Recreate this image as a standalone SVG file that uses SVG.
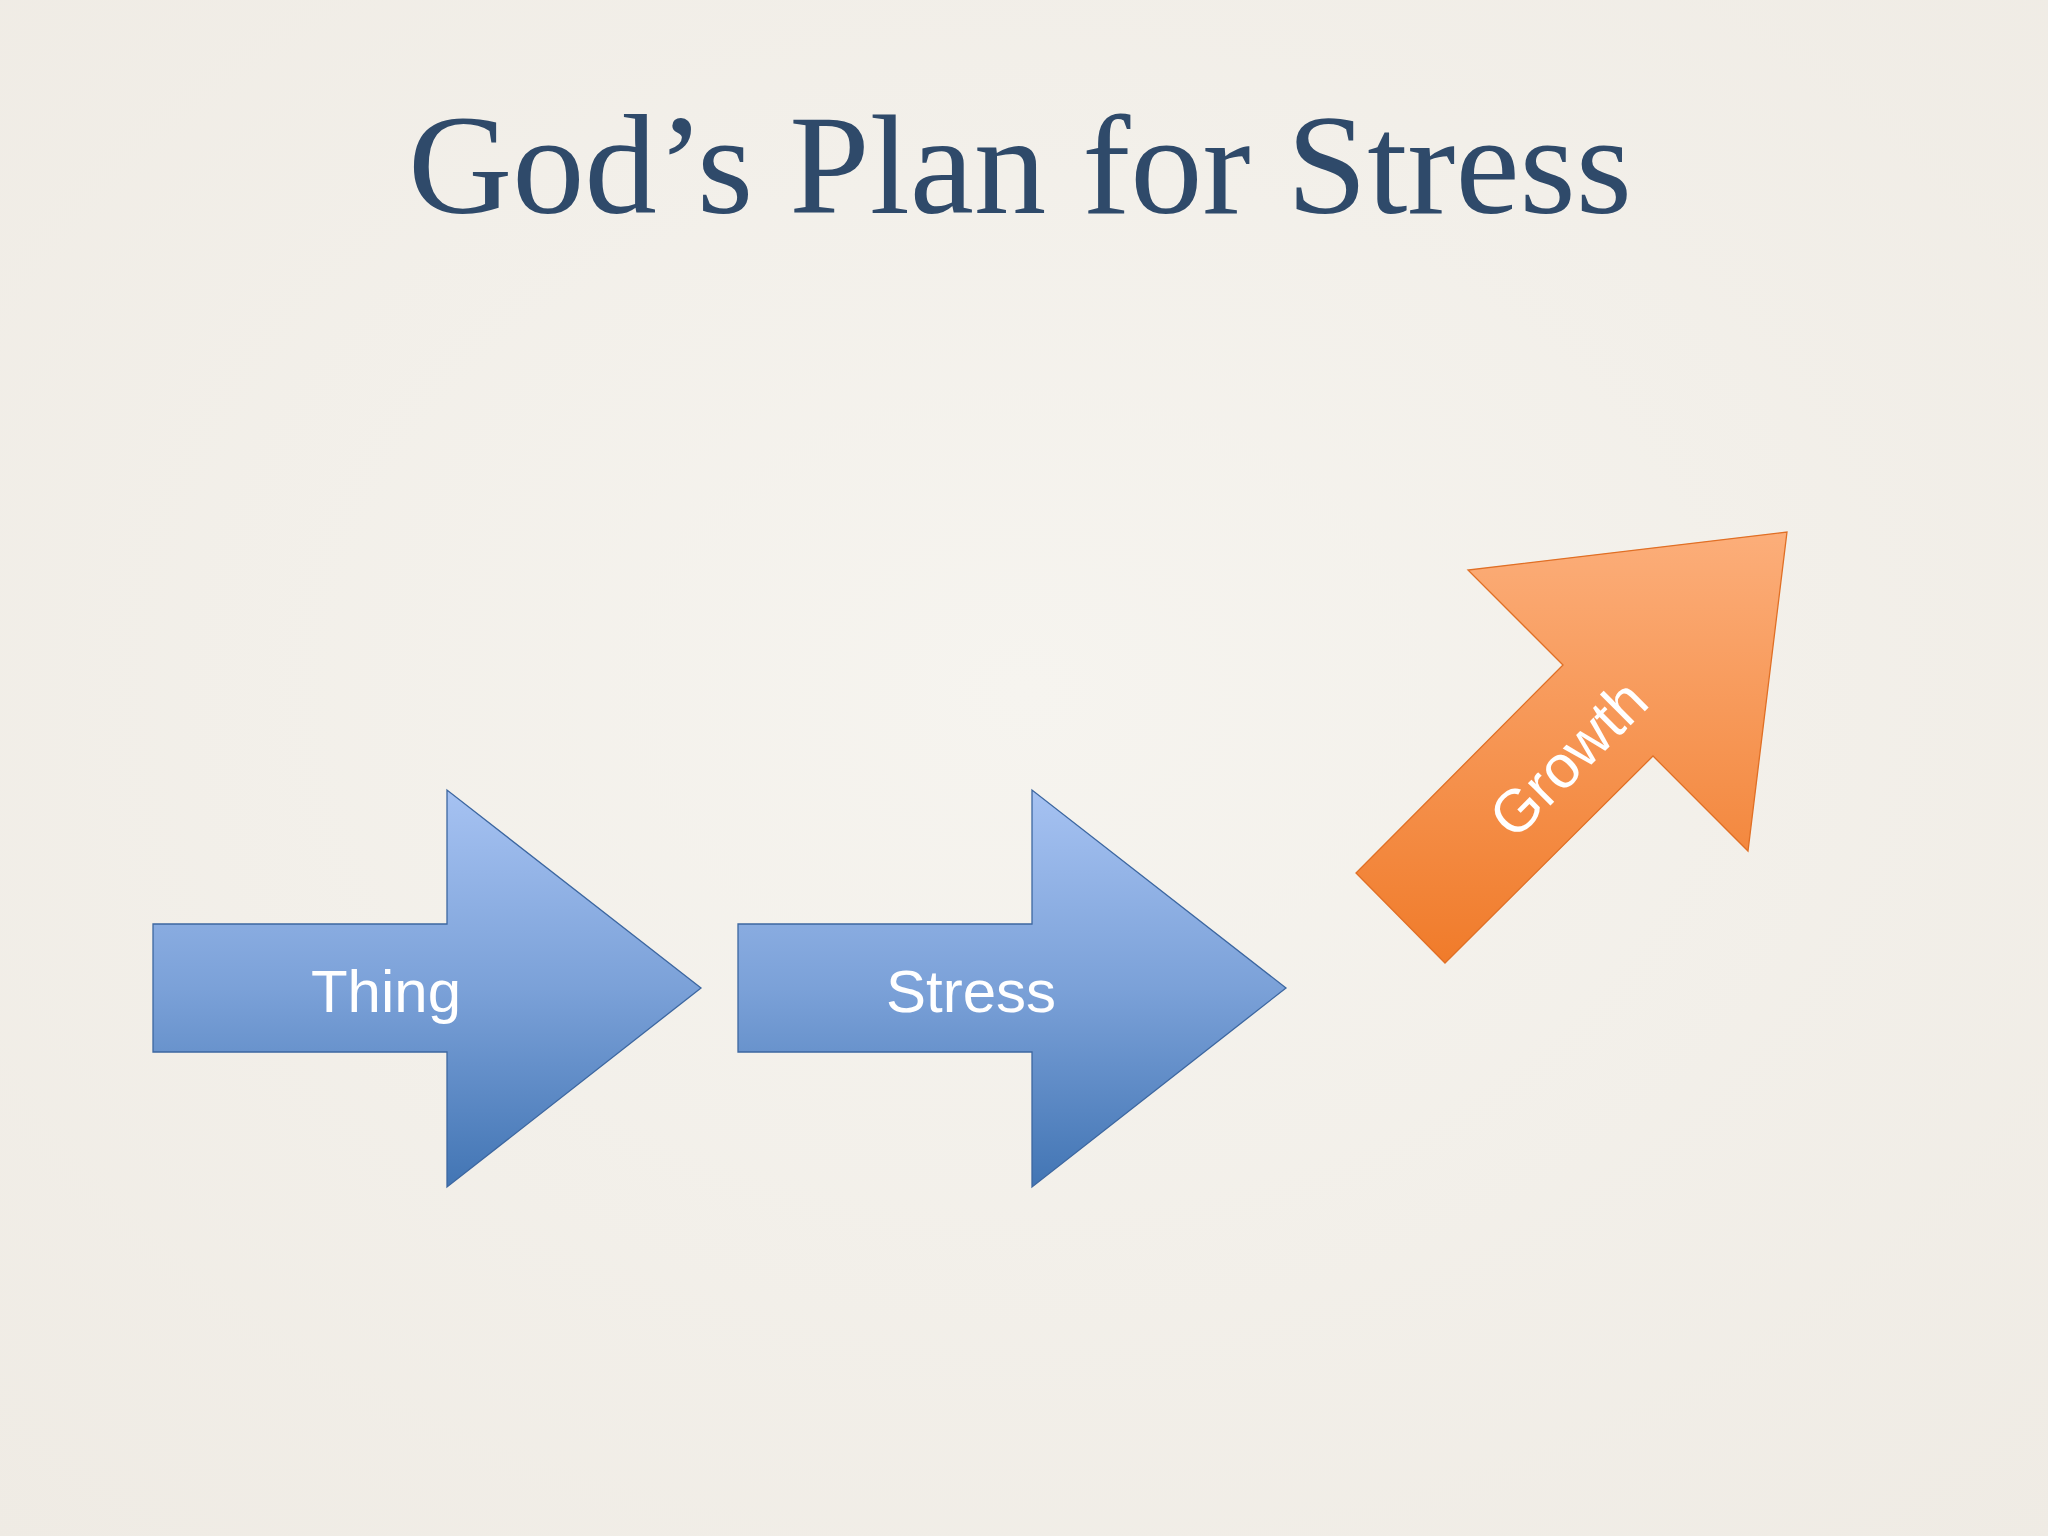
<svg xmlns="http://www.w3.org/2000/svg" width="2048" height="1536" viewBox="0 0 2048 1536">
  <defs>
    <radialGradient id="paper" cx="50%" cy="45%" r="75%">
      <stop offset="0" stop-color="#f6f4ef"/>
      <stop offset="1" stop-color="#efebe4"/>
    </radialGradient>
    <linearGradient id="blue" x1="0" y1="0" x2="0" y2="1">
      <stop offset="0" stop-color="#a6c2f2"/>
      <stop offset="0.5" stop-color="#7ba1d8"/>
      <stop offset="1" stop-color="#4275b4"/>
    </linearGradient>
    <linearGradient id="orange" x1="0" y1="0" x2="0" y2="1">
      <stop offset="0" stop-color="#fcae7a"/>
      <stop offset="1" stop-color="#f07b2a"/>
    </linearGradient>
    <style>
      .blue { fill: url(#blue); stroke: #3d67a0; stroke-width: 1.3; }
      .orange { fill: url(#orange); stroke: #e06f25; stroke-width: 1.3; }
      .lbl { font-family: "Liberation Sans", Arial, sans-serif; font-size: 60px; fill: #ffffff; text-anchor: middle; }
      .title { font-family: "Liberation Serif", "Times New Roman", serif; font-size: 142px; fill: #2f4a6a; }
    </style>
  </defs>
  <rect width="2048" height="1536" fill="url(#paper)"/>
  <text class="title" x="408" y="213" textLength="1224" lengthAdjust="spacingAndGlyphs">God’s Plan for Stress</text>
  <g id="thing">
    <polygon class="blue" points="153,924 447,924 447,790 701,988 447,1187 447,1052 153,1052"/>
    <text class="lbl" x="386" y="1012">Thing</text>
  </g>
  <g id="stress">
    <polygon class="blue" points="738,924 1032,924 1032,790 1286,988 1032,1187 1032,1052 738,1052"/>
    <text class="lbl" x="971" y="1012">Stress</text>
  </g>
  <g id="growth">
    <polygon class="orange" points="1787,532 1748,851 1653,756 1445,963 1356,873 1563,665 1468,570"/>
    <text class="lbl" x="1583" y="773" transform="rotate(-45 1583 773)">Growth</text>
  </g>
  <g id="connectors"/>
</svg>
